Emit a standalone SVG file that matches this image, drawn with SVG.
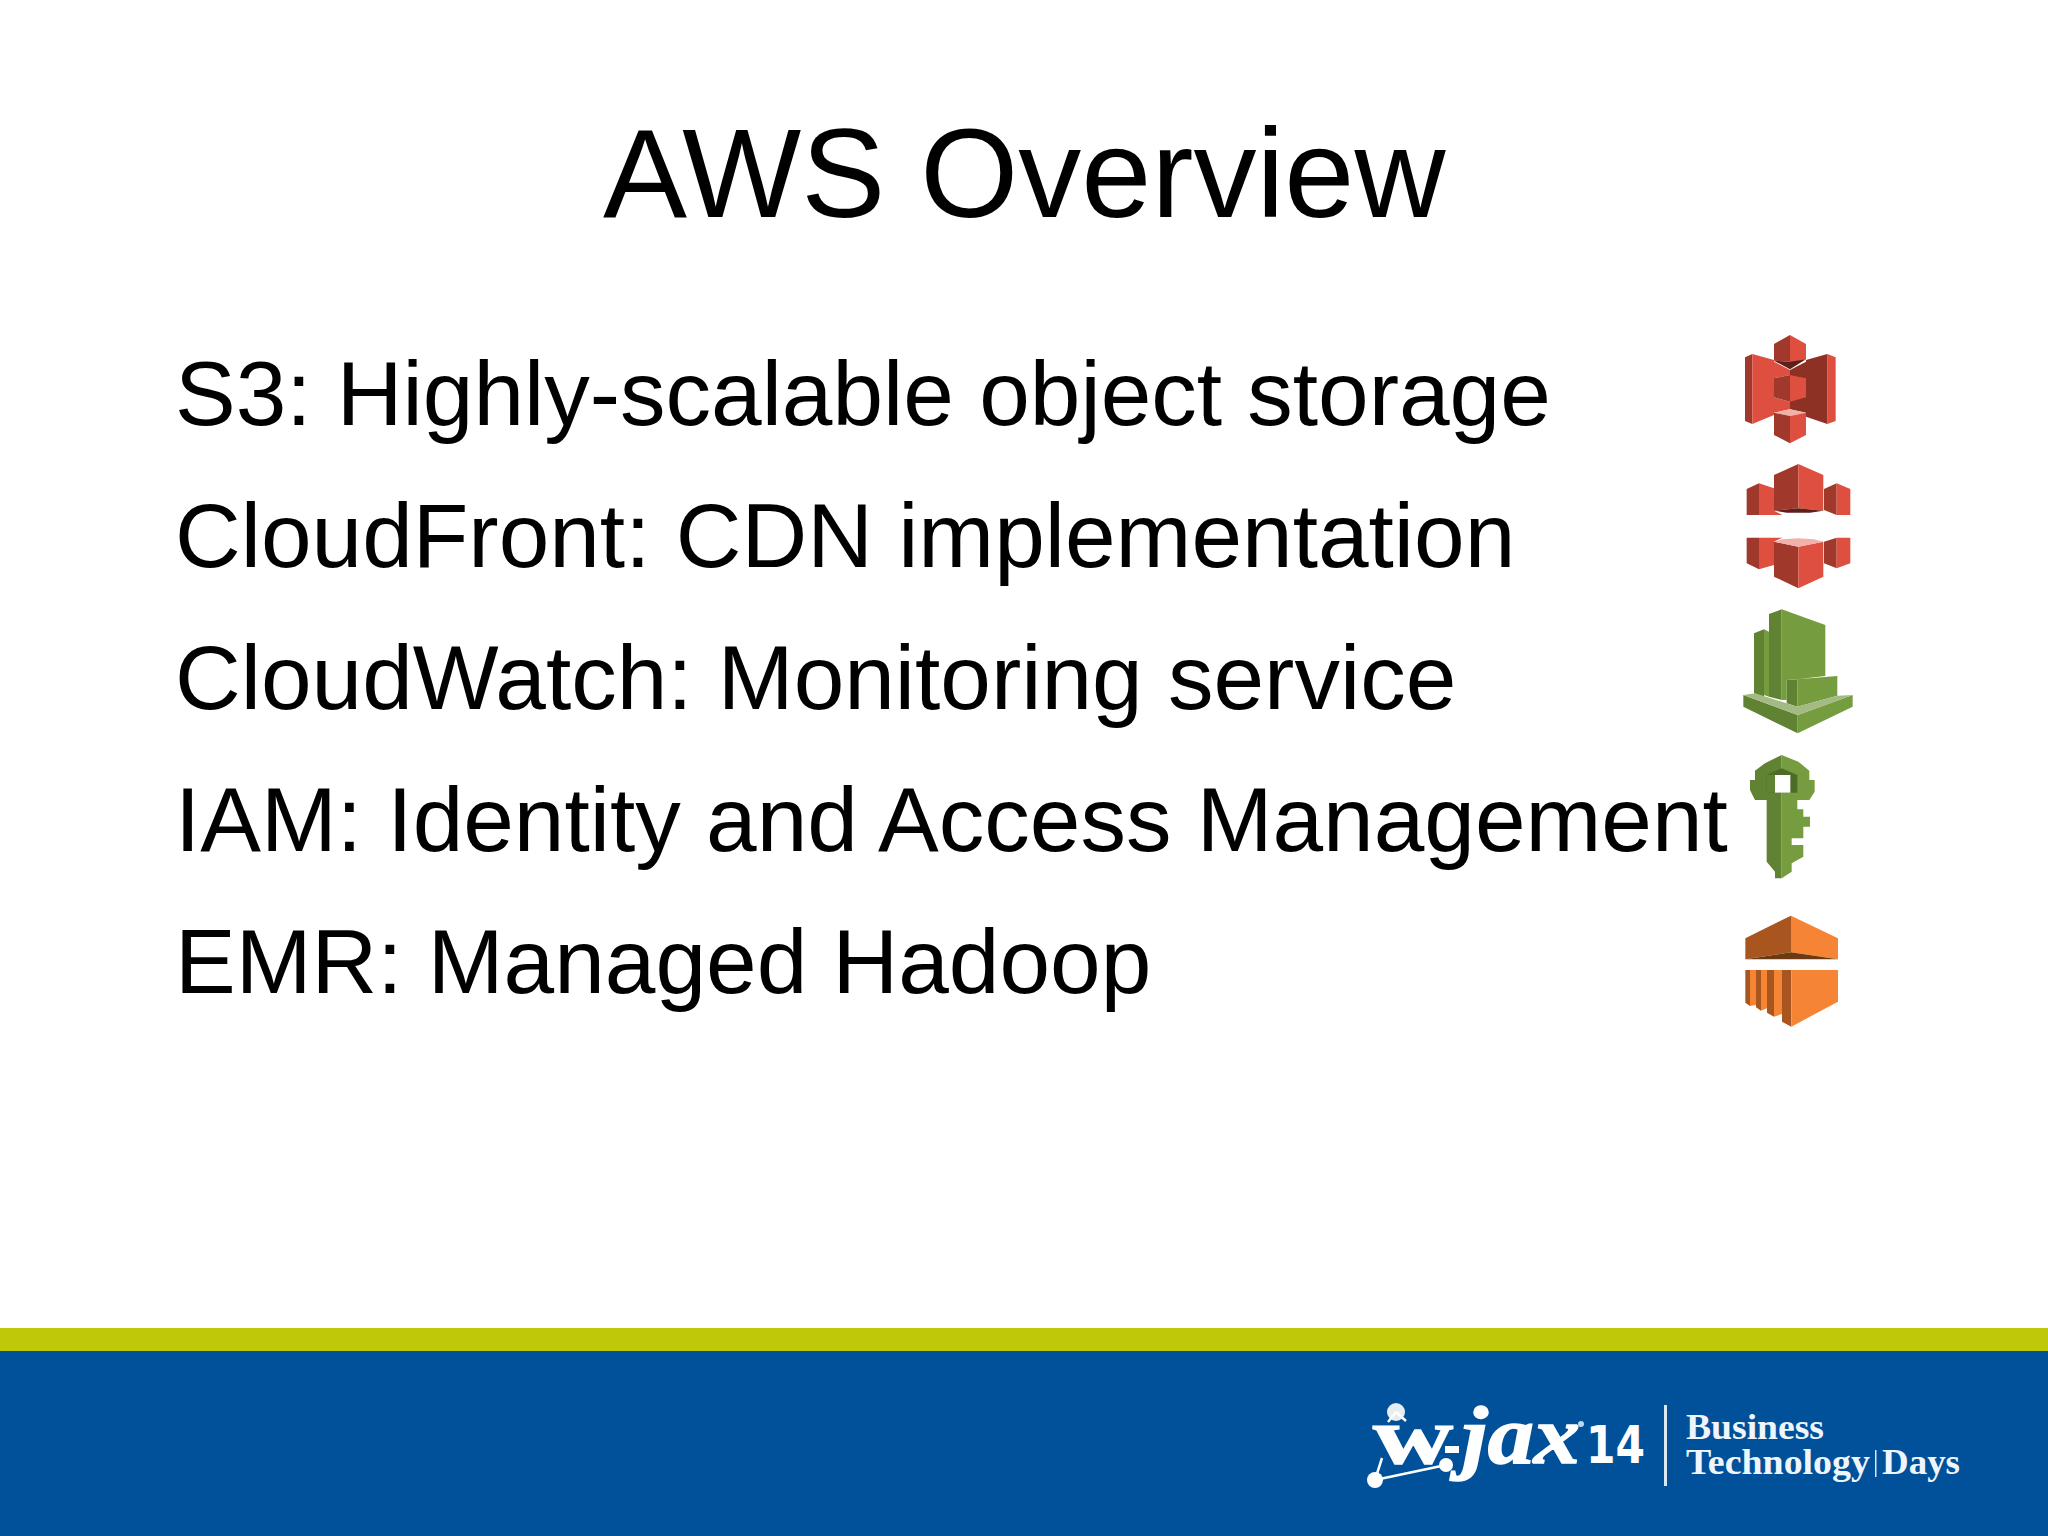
<svg xmlns="http://www.w3.org/2000/svg" width="2048" height="1536" viewBox="0 0 2048 1536">
<style>
.t{font-family:"Liberation Sans",Arial,sans-serif;fill:#000}
.b{font-size:91px}
.rd{fill:#a0392b}.rm{fill:#df4f40}.rl{fill:#f2b0a9}.rk{fill:#5e1f18}.rx{fill:#8c3123}
.gd{fill:#5f8233}.gm{fill:#759c3e}.gl{fill:#a3bb83}.gk{fill:#4c6b26}
.od{fill:#a9551f}.om{fill:#f58534}.ok{fill:#6b3a12}
.lgs{fill:#fff;stroke:#fff;stroke-width:1.5px;font-family:"Liberation Serif",serif;font-weight:700}
.lgd{fill:#fff;font-family:"DejaVu Sans",sans-serif;font-weight:700}
.bt{fill:#eef5fb;font-family:"Liberation Serif",serif;font-weight:700;font-size:36px}
</style>
<rect width="2048" height="1536" fill="#fff"/>
<rect y="1328" width="2048" height="23" fill="#bfc90a"/>
<rect y="1351" width="2048" height="185" fill="#00509a"/>
<text id="title" class="t" x="603" y="217" font-size="126">AWS Overview</text>
<g id="lines">
<text class="t b" x="175" y="425">S3: Highly-scalable object storage</text>
<text class="t b" x="175" y="567">CloudFront: CDN implementation</text>
<text class="t b" x="175" y="709">CloudWatch: Monitoring service</text>
<text class="t b" x="175" y="851">IAM: Identity and Access Management</text>
<text class="t b" x="175" y="993">EMR: Managed Hadoop</text>
</g>
<g id="s3" transform="translate(1720 320) scale(.3333)">
<path class="rd" d="M75 112 97 102V312L75 303Z"/>
<path class="rm" d="M97 102 162 120V285L97 312ZM322 102 347 112V303L322 312Z"/>
<path class="rx" d="M258 120 322 102V312L258 290ZM210 150 258 125V278L210 268Z"/>
<path class="rm" d="M162 125 210 150V165L162 175ZM162 232 210 245V268L162 278Z"/>
<path class="rd" d="M162 175 210 165V245L162 232ZM162 72 210 45V125L162 122Z"/>
<path class="rm" d="M210 165 258 175V232L210 245ZM210 45 258 72V118L210 130Z"/>
<path class="rk" d="M162 122 210 125 258 118 210 148Z"/>
<path class="rl" d="M162 278 210 268 258 278 210 288Z"/>
<path class="rd" d="M162 278 210 288V370L162 345Z"/>
<path class="rm" d="M210 288 258 278V345L210 370Z"/>
</g>
<g id="cloudfront" transform="translate(1720 320) scale(.3333)">
<path class="rd" d="M80 507 117 490V585H80ZM312 507 350 490V585L312 570ZM162 465 235 432V565L162 572Z"/>
<path class="rm" d="M117 490 162 505V572L187 585H117ZM350 490 391 507V585H350ZM235 432 310 465V572L235 565Z"/>
<path class="rk" d="M162 572 235 565 310 572 270 578H200Z"/>
<path class="rd" d="M80 653H117V748L80 730ZM312 665 350 653V745L312 730ZM162 665 235 680V805L162 770Z"/>
<path class="rm" d="M117 653H187L162 665V735L117 748ZM350 653H391V730L350 745ZM235 680 310 665V770L235 805Z"/>
<path class="rl" d="M187 658 235 655 282 658 310 665 235 680 162 665Z"/>
</g>
<g id="cloudwatch" transform="translate(1720 600) scale(.3333)">
<path class="gd" d="M102 100 132 88V290L102 280ZM147 42 185 28V300L147 290ZM200 240 232 238V320L200 310ZM70 285 233 345V400L70 320Z"/>
<path class="gm" d="M132 88 147 95V290L132 285ZM185 28 316 75V228L232 238 200 240V300L185 300ZM232 238 352 228V287L232 320ZM233 345 398 285V320L233 400Z"/>
<path class="gl" d="M70 285 105 280 200 310 232 320 352 287 398 285 233 345Z"/>
</g>
<g id="iam" transform="translate(1720 600) scale(.3333)">
<path class="gd" d="M185 465 135 490 105 512V540H90V570L105 600H140V785L165 815V835H185Z"/>
<path class="gm" d="M185 465 235 485 268 512V540H284V575L268 600H232V628H250V650H270V680H250V715H215V735H250V770L215 790V815L185 835Z"/>
<path class="gk" d="M140 525 185 505 232 525V578H140Z"/>
<path class="gd" d="M140 525H165V578H140Z"/>
<rect x="165" y="525" width="46" height="53" fill="#fff"/>
</g>
<g id="emr" transform="translate(1720 890) scale(.3333)">
<path class="od" d="M76 145 213 77V187L76 208Z"/>
<path class="om" d="M213 77 354 145V208L213 187Z"/>
<path class="ok" d="M76 208 213 187 354 208Z"/>
<path class="od" d="M76 240H90V348L76 338ZM108 240H123V362L108 352ZM141 240H162V380L141 368ZM186 240H214V410L186 395Z"/>
<path class="om" d="M90 240H108V345L90 348ZM123 240H141V355L123 362ZM162 240H186V372L162 380ZM214 240H354V335L214 410Z"/>
</g>
<g id="logo">
<text class="lgs" x="1373" y="1463" font-size="80" textLength="80" lengthAdjust="spacingAndGlyphs">w</text>
<rect x="1445" y="1446" width="14" height="7" fill="#fff"/>
<text class="lgs" x="1462" y="1463" font-size="82" font-style="italic" textLength="118" lengthAdjust="spacingAndGlyphs">jax</text>
<circle cx="1581" cy="1424" r="3" fill="#bcd8ef"/>
<text class="lgd" x="1586" y="1463" font-size="52" textLength="59" lengthAdjust="spacingAndGlyphs">14</text>
<circle cx="1396" cy="1412" r="9" fill="#e6eef2"/>
<circle cx="1375" cy="1480" r="8" fill="#fff"/>
<circle cx="1446" cy="1465" r="7" fill="#fff"/>
<path d="M1375 1480 1446 1465M1375 1480 1382 1458M1396 1412 1388 1422M1396 1412 1406 1421" stroke="#fff" stroke-width="2.5" fill="none"/>
<rect x="1664" y="1405" width="3" height="81" fill="#dbe8f4"/>
<text class="bt" x="1686" y="1439" textLength="138" lengthAdjust="spacingAndGlyphs">Business</text>
<text class="bt" x="1686" y="1474" textLength="184" lengthAdjust="spacingAndGlyphs">Technology</text>
<rect x="1875" y="1450" width="1.5" height="27" fill="#dbe8f4"/>
<text class="bt" x="1882" y="1474" textLength="78" lengthAdjust="spacingAndGlyphs">Days</text>
</g>
</svg>
